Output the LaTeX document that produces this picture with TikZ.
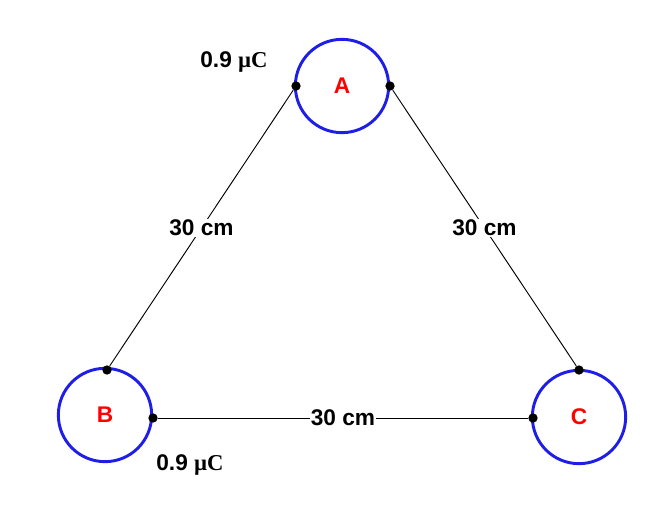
\documentclass[tikz,border=0pt]{standalone}
\usepackage{fontspec}
\setmainfont{Liberation Sans}
\newfontfamily\serifmu{Liberation Serif}
\begin{document}
\begin{tikzpicture}[x=0.75pt,y=-0.75pt,
  charge/.style={draw={rgb,255:red,30;green,30;blue,230},line width=2.2pt,circle,minimum size=70pt,inner sep=0pt,text=red,font=\fontsize{17}{19}\selectfont\bfseries},
  pin/.style={circle,fill=black,inner sep=0pt,minimum size=7pt},
  lbl/.style={fill=white,inner sep=1pt,font=\fontsize{17}{19}\selectfont\bfseries},
  qlbl/.style={font=\fontsize{17}{19}\selectfont\bfseries},
  wire/.style={line width=0.7pt}]
\useasboundingbox (0,0) rectangle (657,528);
\node[charge] (A) at (342,86) {A};
\node[charge] (B) at (105,415) {B};
\node[charge] (C) at (579,417) {C};
\node[pin] (a1) at (296,86) {};
\node[pin] (a2) at (390,86) {};
\node[pin] (b1) at (107,370) {};
\node[pin] (b2) at (153,418) {};
\node[pin] (c1) at (579,370) {};
\node[pin] (c2) at (533,418) {};
\draw[wire] (a1) -- node[lbl]{30 cm} (b1);
\draw[wire] (a2) -- node[lbl]{30 cm} (c1);
\draw[wire] (b2) -- node[lbl]{30 cm} (c2);
\node[qlbl] (qa) at (234,62) {0.9 {\serifmu µC}};
\node[qlbl] (qb) at (190,465) {0.9 {\serifmu µC}};
\end{tikzpicture}
\end{document}
